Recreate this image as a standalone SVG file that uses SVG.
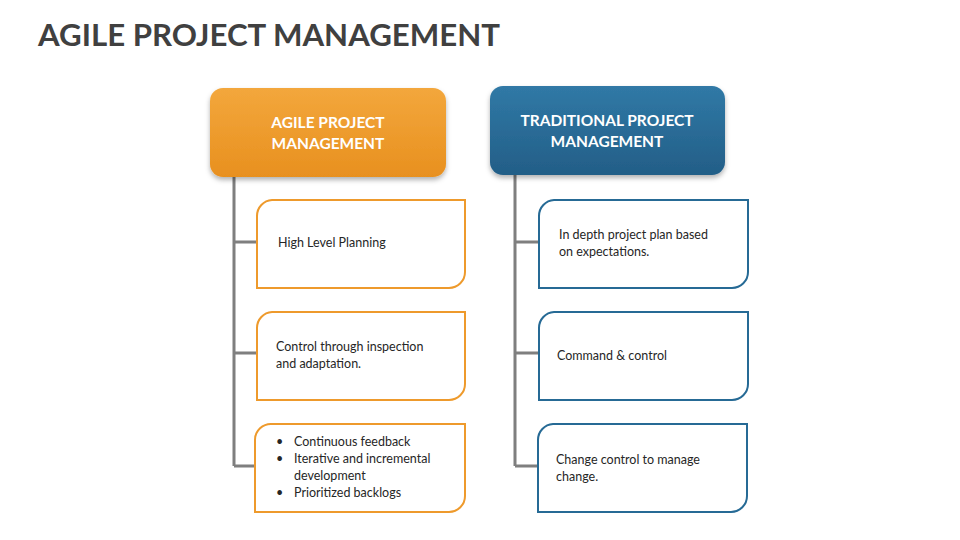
<svg xmlns="http://www.w3.org/2000/svg" width="960" height="540" viewBox="0 0 960 540">
<defs>
<linearGradient id="gOr" x1="0" y1="0" x2="0" y2="1">
<stop offset="0" stop-color="#F3A73C"/>
<stop offset="1" stop-color="#E8901F"/>
</linearGradient>
<linearGradient id="gBl" x1="0" y1="0" x2="0" y2="1">
<stop offset="0" stop-color="#3079A6"/>
<stop offset="1" stop-color="#235E87"/>
</linearGradient>
<filter id="sh" x="-10%" y="-10%" width="120%" height="130%">
<feDropShadow dx="0" dy="3" stdDeviation="2.5" flood-color="#000" flood-opacity="0.3"/>
</filter>
</defs>
<style>
.title{font-family:Lato,"Open Sans","Liberation Sans",sans-serif;font-weight:bold;font-size:31px;fill:#404040}
.hd{font-family:Lato,"Open Sans","Liberation Sans",sans-serif;font-weight:bold;font-size:15.5px;fill:#ffffff;text-anchor:middle}
.tx{font-family:Lato,"Open Sans","Liberation Sans",sans-serif;font-size:12.5px;fill:#262626}
.bo{fill:#ffffff;stroke:#EE9A2C;stroke-width:2}
.bb{fill:#ffffff;stroke:#266A95;stroke-width:2}
.ln{fill:none;stroke:#7F7F7F;stroke-width:3}
</style>
<rect width="960" height="540" fill="#ffffff"/>
<text class="title" x="38" y="46" textLength="462" lengthAdjust="spacingAndGlyphs">AGILE PROJECT MANAGEMENT</text>

<g id="connectors">
<path class="ln" d="M234,177 V466 M234,242 H257 M234,353 H257 M234,466 H257"/>
<path class="ln" d="M515,175 V466 M515,242 H539 M515,353 H539 M515,466 H539"/>
</g>

<g id="agile-header">
<rect x="210" y="88" width="236" height="89" rx="13" fill="url(#gOr)" filter="url(#sh)"/>
<text class="hd" x="328" y="128">AGILE PROJECT</text>
<text class="hd" x="328" y="149">MANAGEMENT</text>
</g>
<g id="trad-header">
<rect x="490" y="86" width="235" height="89" rx="13" fill="url(#gBl)" filter="url(#sh)"/>
<text class="hd" x="607" y="126">TRADITIONAL PROJECT</text>
<text class="hd" x="607" y="147">MANAGEMENT</text>
</g>

<g id="agile-1">
<path class="bo" d="M272,200 H465 V272 A16,16 0 0 1 449,288 H257 V216 A16,16 0 0 1 272,200 Z"/>
<text class="tx" x="278" y="247">High Level Planning</text>
</g>
<g id="agile-2">
<path class="bo" d="M272,312 H465 V384 A16,16 0 0 1 449,400 H257 V328 A16,16 0 0 1 272,312 Z"/>
<text class="tx" x="276" y="351">Control through inspection</text>
<text class="tx" x="276" y="368">and adaptation.</text>
</g>
<g id="agile-3">
<path class="bo" d="M272,424 H465 V496 A16,16 0 0 1 449,512 H255 V440 A16,16 0 0 1 272,424 Z"/>
<text class="tx" x="276" y="446">•</text>
<text class="tx" x="294" y="446">Continuous feedback</text>
<text class="tx" x="276" y="463">•</text>
<text class="tx" x="294" y="463">Iterative and incremental</text>
<text class="tx" x="294" y="480">development</text>
<text class="tx" x="276" y="497">•</text>
<text class="tx" x="294" y="497">Prioritized backlogs</text>
</g>

<g id="trad-1">
<path class="bb" d="M554,200 H748 V272 A16,16 0 0 1 732,288 H539 V216 A16,16 0 0 1 554,200 Z"/>
<text class="tx" x="559" y="239">In depth project plan based</text>
<text class="tx" x="559" y="256">on expectations.</text>
</g>
<g id="trad-2">
<path class="bb" d="M554,312 H748 V384 A16,16 0 0 1 732,400 H539 V328 A16,16 0 0 1 554,312 Z"/>
<text class="tx" x="557" y="360">Command &amp; control</text>
</g>
<g id="trad-3">
<path class="bb" d="M553,424 H747 V496 A16,16 0 0 1 731,512 H538 V440 A16,16 0 0 1 553,424 Z"/>
<text class="tx" x="556" y="464">Change control to manage</text>
<text class="tx" x="556" y="481">change.</text>
</g>
</svg>
